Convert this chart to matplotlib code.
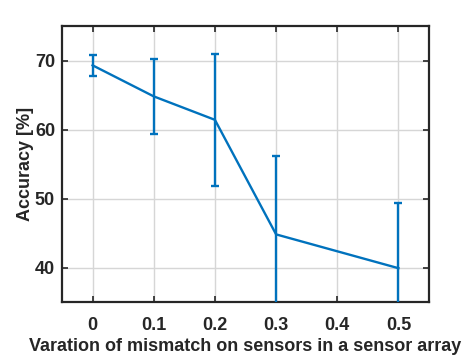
import matplotlib
matplotlib.use("Agg")
import matplotlib.pyplot as plt

x_vals = [0.0, 0.1, 0.2, 0.3, 0.5]
accuracy = [69.3, 64.8, 61.4, 44.8, 39.9]
error = [1.5, 5.4, 9.6, 11.3, 9.4]
x_ticks = [0, 0.1, 0.2, 0.3, 0.4, 0.5]
x_tick_labels = ["0", "0.1", "0.2", "0.3", "0.4", "0.5"]
y_ticks = [40, 50, 60, 70]

plt.rcParams['font.family'] = ['Liberation Sans', 'DejaVu Sans']
plt.rcParams['font.weight'] = 'bold'

fig = plt.figure(figsize=(4.74, 3.55), dpi=100)
ax = fig.add_axes([62/474, 1 - 302/355, (429-62)/474, (302-26)/355])

ax.errorbar(x_vals, accuracy, yerr=error, color='#0072BD', linewidth=1.7,
            elinewidth=1.7, capsize=3, capthick=1.7, zorder=3)

ax.set_xlim(-0.05, 0.55)
ax.set_ylim(35, 75)
ax.set_xticks(x_ticks)
ax.set_xticklabels(x_tick_labels)
ax.set_yticks(y_ticks)
ax.grid(True, color='#d6d6d6', linewidth=1.0)
ax.set_axisbelow(True)
for s in ax.spines.values():
    s.set_linewidth(1.6)
    s.set_color('#262626')
ax.tick_params(direction='in', length=4, width=1.2, top=True, right=True,
               labelsize=13, colors='#262626', pad=5)
ax.tick_params(axis='x', pad=11)
ax.set_xlabel("Varation of mismatch on sensors in a sensor array",
              fontsize=13, fontweight='bold', color='#262626', labelpad=3)
ax.set_ylabel("Accuracy [%]", fontsize=13, fontweight='bold', color='#262626', labelpad=1)

fig.savefig("out.png", dpi=100)
